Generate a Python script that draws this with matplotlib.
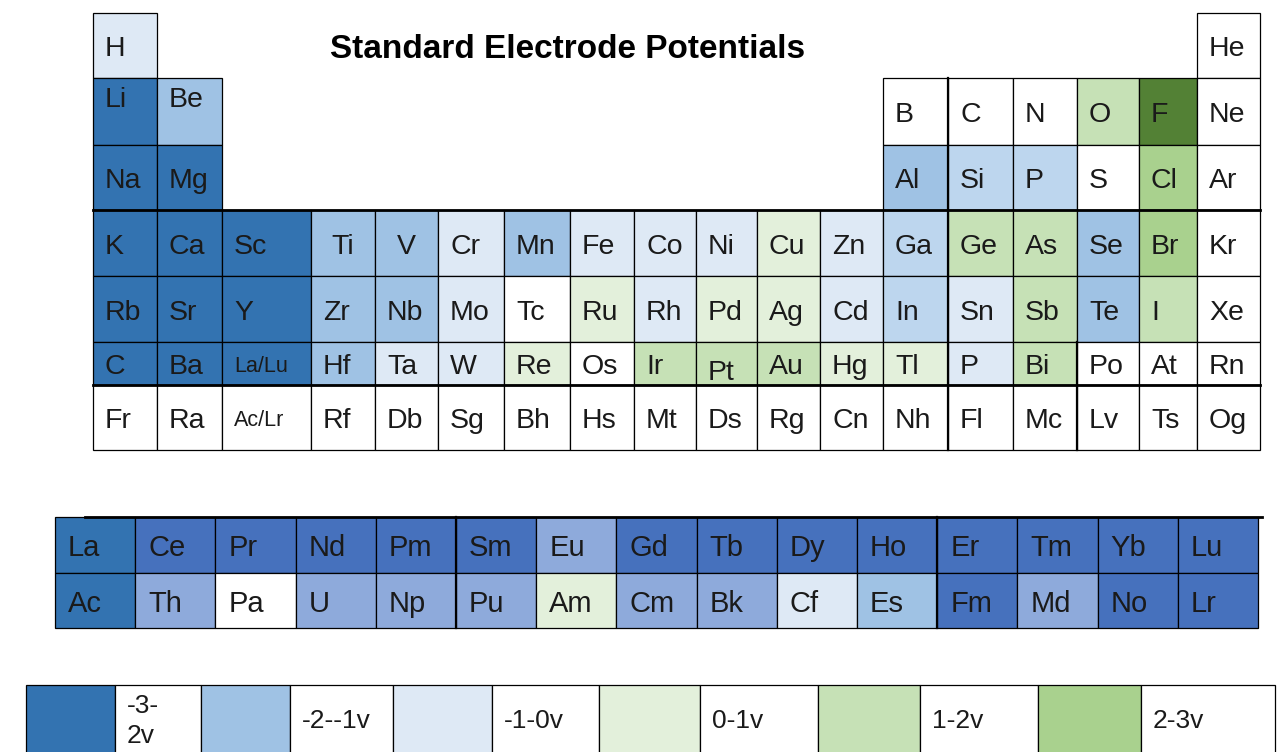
import matplotlib
matplotlib.use("Agg")
import matplotlib.pyplot as plt
from matplotlib.patches import Rectangle

# Main table, one string per period ("" = empty slot)
main_symbols = [
    ["H"] + [""] * 16 + ["He"],
    ["Li", "Be"] + [""] * 10 + ["B", "C", "N", "O", "F", "Ne"],
    ["Na", "Mg"] + [""] * 10 + ["Al", "Si", "P", "S", "Cl", "Ar"],
    ["K", "Ca", "Sc", "Ti", "V", "Cr", "Mn", "Fe", "Co", "Ni", "Cu", "Zn", "Ga", "Ge", "As", "Se", "Br", "Kr"],
    ["Rb", "Sr", "Y", "Zr", "Nb", "Mo", "Tc", "Ru", "Rh", "Pd", "Ag", "Cd", "In", "Sn", "Sb", "Te", "I", "Xe"],
    ["C", "Ba", "La/Lu", "Hf", "Ta", "W", "Re", "Os", "Ir", "Pt", "Au", "Hg", "Tl", "P", "Bi", "Po", "At", "Rn"],
    ["Fr", "Ra", "Ac/Lr", "Rf", "Db", "Sg", "Bh", "Hs", "Mt", "Ds", "Rg", "Cn", "Nh", "Fl", "Mc", "Lv", "Ts", "Og"],
]
# potential band of each cell
main_bands = [
    "C................W",
    "AB..........WWWEGW",
    "AA..........BbbWFW",
    "AAABBCBCCCDCbEEBFW",
    "AAABBCWDCDDCbCEBEW",
    "AAABCCDWEEEDDCEWWW",
    "WWWWWWWWWWWWWWWWWW",
]

lan_symbols = ["La", "Ce", "Pr", "Nd", "Pm", "Sm", "Eu", "Gd", "Tb", "Dy", "Ho", "Er", "Tm", "Yb", "Lu"]
lan_bands = "ALLLLLMLLLLLLLL"
act_symbols = ["Ac", "Th", "Pa", "U", "Np", "Pu", "Am", "Cm", "Bk", "Cf", "Es", "Fm", "Md", "No", "Lr"]
act_bands = "AMWMMMDMMCBLMLL"

legend_labels = ["-3-\n2v", "-2--1v", "-1-0v", "0-1v", "1-2v", "2-3v"]
legend_bands = "ABCDEF"

colors = {
    "A": "#3373b1",
    "B": "#9fc2e4",
    "b": "#bdd6ee",
    "C": "#dee9f5",
    "D": "#e3f0db",
    "E": "#c6e1b6",
    "F": "#a9d18e",
    "G": "#538135",
    "L": "#4671bd",
    "M": "#8eaadb",
    "W": "#ffffff",
}

# layout (pixels)
main_x = [93, 157, 222, 311, 375, 438, 504, 570, 634, 696, 757, 820, 883, 948, 1013, 1077, 1139, 1197, 1260]
main_y = [13, 78, 145, 210, 276, 342, 385, 450]
lan_x = [55 + i * 80.2 for i in range(16)]
lan_y = [517, 573, 628]
leg_x = [26, 115, 201, 290, 393, 492, 599, 700, 818, 920, 1038, 1141, 1275]
leg_y = [685, 775]

txt = "#1a1a1a"
plt.rcParams["font.family"] = ["Liberation Sans", "DejaVu Sans"]

fig = plt.figure(figsize=(12.86, 7.52), dpi=100)
ax = fig.add_axes([0, 0, 1, 1])
ax.set_xlim(0, 1286)
ax.set_ylim(752, 0)
ax.axis("off")


def cell(x0, x1, y0, y1, color, lw=0.9):
    ax.add_patch(Rectangle((x0, y0), x1 - x0, y1 - y0, facecolor=color,
                           edgecolor="black", linewidth=lw, zorder=1))


# main table
for r, (syms, bands) in enumerate(zip(main_symbols, main_bands)):
    y0, y1 = main_y[r], main_y[r + 1]
    for c, (s, b) in enumerate(zip(syms, bands)):
        if s == "":
            continue
        x0, x1 = main_x[c], main_x[c + 1]
        cell(x0, x1, y0, y1, colors[b])
        size = 15.5 if "/" in s else 20.5
        ha, tx = "left", x0 + 12
        if s in ("Ti", "V"):
            ha, tx = "center", (x0 + x1) / 2
        ty = (y0 + y1) / 2 + 11
        if "/" in s:
            ty -= 2.5
        if s in ("Li", "Be"):
            ty = y0 + 29
        if s == "Pt":
            ty += 5
        ax.text(tx, ty, s, ha=ha, va="baseline", fontsize=size, color=txt, zorder=3)

# heavier rules
ax.plot([main_x[0], main_x[-1]], [main_y[3], main_y[3]], color="black", lw=2, zorder=2)
ax.plot([main_x[0], main_x[-1]], [main_y[6], main_y[6]], color="black", lw=2, zorder=2)
ax.plot([main_x[13], main_x[13]], [main_y[1], main_y[-1]], color="black", lw=1.6, zorder=2)
ax.plot([main_x[15], main_x[15]], [main_y[5], main_y[-1]], color="black", lw=1.6, zorder=2)

ax.text((330 + 806) / 2, 49, "Standard Electrode Potentials", ha="center", va="center",
        fontsize=24, fontweight="bold", color="black", zorder=3)

# lanthanides / actinides
for r, (syms, bands) in enumerate([(lan_symbols, lan_bands), (act_symbols, act_bands)]):
    y0, y1 = lan_y[r], lan_y[r + 1]
    for c, (s, b) in enumerate(zip(syms, bands)):
        x0, x1 = lan_x[c], lan_x[c + 1]
        cell(x0, x1, y0, y1, colors[b])
        ax.text(x0 + 13, (y0 + y1) / 2 + 11.5, s, ha="left", va="baseline", fontsize=21,
                color=txt, zorder=3)
ax.plot([85, 1262], [lan_y[0], lan_y[0]], color="black", lw=2, zorder=2)
for c in (5, 11):
    ax.plot([lan_x[c], lan_x[c]], [lan_y[0], lan_y[-1]], color="black", lw=1.6, zorder=2)

# legend strip
for i, (lab, b) in enumerate(zip(legend_labels, legend_bands)):
    xa, xb, xc = leg_x[2 * i], leg_x[2 * i + 1], leg_x[2 * i + 2]
    cell(xa, xb, leg_y[0], leg_y[1], colors[b])
    cell(xb, xc, leg_y[0], leg_y[1], "white")
    ax.text(xb + 12, 721, lab, ha="left", va="center", fontsize=19, color=txt,
            linespacing=1.3, zorder=3)

fig.savefig("out.png", dpi=100)
